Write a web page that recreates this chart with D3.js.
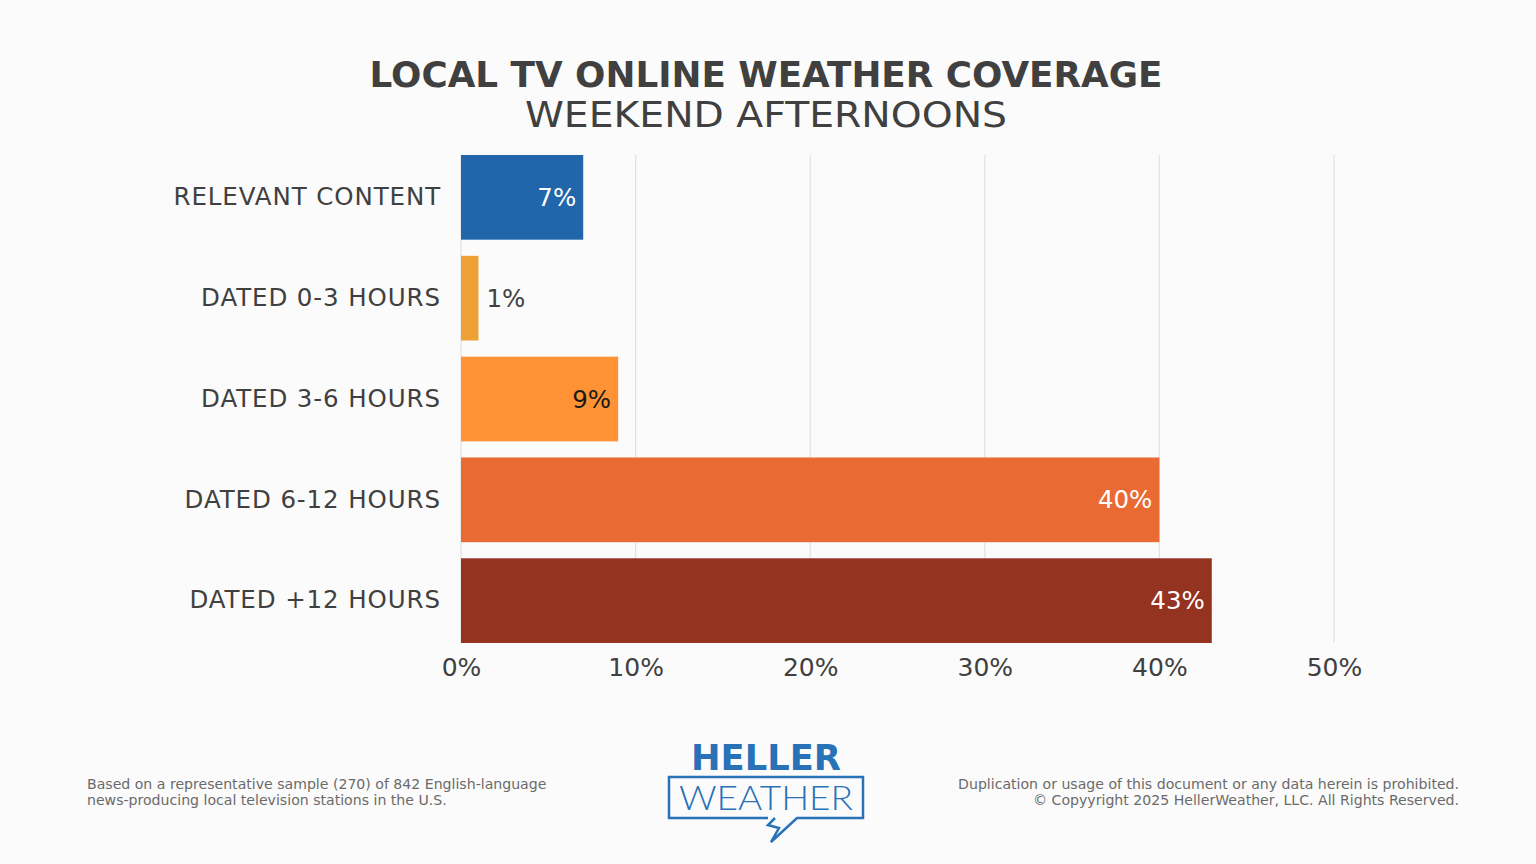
<!DOCTYPE html>
<html>
<head>
<meta charset="utf-8">
<script src="https://cdn.jsdelivr.net/npm/d3@7"></script>
<style>
  body { margin: 0; background: #fbfbfb; }
  svg { display: block; font-family: "DejaVu Sans", sans-serif; }
</style>
</head>
<body>
<div class="chart"></div>
<script>
// data
const categories = ["RELEVANT CONTENT", "DATED 0-3 HOURS", "DATED 3-6 HOURS", "DATED 6-12 HOURS", "DATED +12 HOURS"];
const values = [7, 1, 9, 40, 43];
const barColors = ["#2165ab", "#eea235", "#fe9234", "#e96a32", "#94331f"];
const labelColors = ["#ffffff", "#404040", "#1a1a1a", "#ffffff", "#ffffff"];
const xTicks = [0, 10, 20, 30, 40, 50];

const W = 1536, H = 864;
const margin = ({ top: 155, right: 202, bottom: 221, left: 461 });
const width = W - margin.left - margin.right,
    height = H - margin.top - margin.bottom;

const svg = d3.select(".chart").append("svg")
    .attr("width", W)
    .attr("height", H);
svg.append("rect").attr("width", W).attr("height", H).attr("fill", "#fbfbfb");

// title
svg.append("text")
    .attr("x", 766).attr("y", 87)
    .attr("text-anchor", "middle")
    .attr("font-size", 35).attr("font-weight", "bold")
    .attr("fill", "#404040")
    .attr("textLength", 793).attr("lengthAdjust", "spacingAndGlyphs")
    .text("LOCAL TV ONLINE WEATHER COVERAGE");
svg.append("text")
    .attr("x", 766).attr("y", 127)
    .attr("text-anchor", "middle")
    .attr("font-size", 35)
    .attr("fill", "#404040")
    .attr("textLength", 482).attr("lengthAdjust", "spacingAndGlyphs")
    .text("WEEKEND AFTERNOONS");

const xScale = d3.scaleLinear().domain([0, 50]).range([0, width]);
const yScale = d3.scaleBand().domain(categories).range([0, height]).paddingInner(0.16).paddingOuter(0);

const g = svg.append("g")
    .attr("transform", `translate(${margin.left},${margin.top})`);

// gridlines
g.append("g")
    .selectAll("line")
    .data(xTicks)
    .join("line")
    .attr("x1", d => xScale(d)).attr("x2", d => xScale(d))
    .attr("y1", 0).attr("y2", height)
    .attr("stroke", "#e2e2e2").attr("stroke-width", 1.2);

// bars
g.selectAll(".bar")
    .data(values)
    .join("rect")
    .attr("class", "bar")
    .attr("x", 0)
    .attr("y", (d, i) => yScale(categories[i]))
    .attr("width", d => xScale(d))
    .attr("height", yScale.bandwidth())
    .attr("fill", (d, i) => barColors[i]);

// value labels
g.selectAll(".val")
    .data(values)
    .join("text")
    .attr("class", "val")
    .attr("x", d => d < 3 ? xScale(d) + 8 : xScale(d) - 7)
    .attr("y", (d, i) => yScale(categories[i]) + yScale.bandwidth() / 2)
    .attr("dy", "0.35em")
    .attr("text-anchor", d => d < 3 ? "start" : "end")
    .attr("font-size", 24.5)
    .attr("fill", (d, i) => labelColors[i])
    .text(d => d + "%");

// y axis (category labels)
const yAxis = d3.axisLeft(yScale).tickSize(0).tickPadding(20);
g.append("g")
    .attr("class", "axis y-axis")
    .call(yAxis)
    .call(a => a.select(".domain").remove())
    .selectAll("text")
    .attr("font-family", "DejaVu Sans, sans-serif")
    .attr("font-size", 24.5)
    .attr("letter-spacing", 0.9)
    .attr("fill", "#404040");

// x axis
const xAxis = d3.axisBottom(xScale).tickValues(xTicks).tickSize(0).tickPadding(15).tickFormat(d => d + "%");
g.append("g")
    .attr("class", "axis x-axis")
    .attr("transform", `translate(0,${height})`)
    .call(xAxis)
    .call(a => a.select(".domain").remove())
    .selectAll("text")
    .attr("font-family", "DejaVu Sans, sans-serif")
    .attr("font-size", 25)
    .attr("fill", "#404040");

// footer notes
const note = svg.append("text")
    .attr("font-size", 14.1).attr("fill", "#6a6a6a");
note.append("tspan").attr("x", 87).attr("y", 789).text("Based on a representative sample (270) of 842 English-language");
note.append("tspan").attr("x", 87).attr("y", 805).text("news-producing local television stations in the U.S.");

const copy = svg.append("text")
    .attr("font-size", 14.1).attr("fill", "#6a6a6a")
    .attr("text-anchor", "end");
copy.append("tspan").attr("x", 1459).attr("y", 789).text("Duplication or usage of this document or any data herein is prohibited.");
copy.append("tspan").attr("x", 1459).attr("y", 805).text("\u00a9 Copyyright 2025 HellerWeather, LLC. All Rights Reserved.");

// logo
const logo = svg.append("g");
const blue = "#2a72b8";
logo.append("text")
    .attr("x", 766).attr("y", 770)
    .attr("text-anchor", "middle")
    .attr("font-size", 36).attr("font-weight", "bold")
    .attr("fill", blue)
    .attr("textLength", 150).attr("lengthAdjust", "spacingAndGlyphs")
    .text("HELLER");
logo.append("path")
    .attr("d", "M768,818 L669,818 L669,777 L863,777 L863,818 L797,818 L771,842 L779,828 L768,825 L775,818")
    .attr("fill", "none")
    .attr("stroke", blue)
    .attr("stroke-width", 2.5)
    .attr("stroke-linejoin", "miter");
logo.append("text")
    .attr("x", 766).attr("y", 810)
    .attr("text-anchor", "middle")
    .attr("font-size", 34).attr("font-weight", 300)
    .attr("font-family", "Lato, sans-serif")
    .attr("fill", blue)
    .attr("textLength", 174).attr("lengthAdjust", "spacingAndGlyphs")
    .text("WEATHER");
</script>
</body>
</html>
